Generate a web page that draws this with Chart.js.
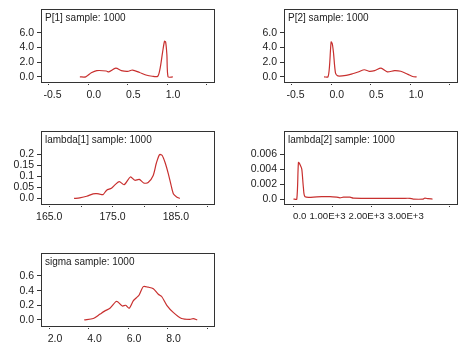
<!DOCTYPE html>
<html>
<head>
<meta charset="utf-8">
<script src="https://cdn.jsdelivr.net/npm/chart.js@4/dist/chart.umd.min.js"></script>
<style>
body { margin: 0; background: #fff; width: 474px; height: 348px; position: relative; overflow: hidden; }
canvas { position: absolute; }
</style>
</head>
<body>
<canvas id="c1"></canvas>
<canvas id="c2"></canvas>
<canvas id="c3"></canvas>
<canvas id="c4"></canvas>
<canvas id="c5"></canvas>
<script>
// P[1]
var p1X = [-0.104, -0.03, 0.04, 0.11, 0.23, 0.26, 0.35, 0.42, 0.5, 0.56, 0.65, 0.73, 0.81, 0.88, 0.91, 0.94, 0.965, 0.98, 0.995, 1.01, 1.07];
var p1Y = [0, 0, 0.55, 0.85, 0.8, 0.68, 1.18, 0.85, 0.75, 0.93, 0.6, 0.25, 0.08, 0.08, 1.2, 3.3, 4.85, 4.7, 3.0, 0, 0];
// P[2]
var p2X = [-0.09, -0.04, -0.02, 0.0, 0.015, 0.03, 0.055, 0.085, 0.19, 0.27, 0.35, 0.42, 0.48, 0.55, 0.63, 0.71, 0.8, 0.88, 0.97, 1.03, 1.08];
var p2Y = [0, 0, 1.5, 4.75, 4.5, 3.3, 0.55, 0.13, 0.2, 0.42, 0.7, 0.97, 0.76, 0.85, 1.18, 0.68, 0.85, 0.76, 0.34, 0.05, 0];
// lambda[1]
var l1X = [168.9, 169.8, 170.9, 171.9, 172.5, 173, 173.5, 174.05, 174.8, 175.4, 176.05, 176.8, 177.8, 178.5, 179.2, 179.9, 180.6, 181.4, 181.9, 182.4, 182.8, 183.3, 183.8, 184.2, 184.6, 185.1, 185.6];
var l1Y = [0, 0.003, 0.01, 0.021, 0.022, 0.019, 0.018, 0.0375, 0.046, 0.0625, 0.076, 0.062, 0.097, 0.082, 0.086, 0.07, 0.072, 0.104, 0.16, 0.198, 0.195, 0.16, 0.11, 0.0625, 0.02, 0.007, 0];
// lambda[2]
var l2X = [0, 85, 128, 170, 213, 255, 298, 600, 936, 1106, 1190, 1277, 1447, 1532, 2000, 2809, 2979, 3064, 3319, 3362, 3447, 3557];
var l2Y = [0, 0, 0.0049, 0.0046, 0.004, 0.0015, 0.0003, 0.0003, 0.00033, 0.00025, 0.00017, 0.00025, 0.00025, 0.00012, 0.0001, 0.0001, 0.0001, 0, 0, 0.00012, 0.00005, 0];
// sigma
var sgX = [3.77, 4.23, 4.57, 4.8, 5.07, 5.37, 5.46, 5.7, 5.87, 6.05, 6.25, 6.4, 6.55, 6.76, 7.01, 7.27, 7.52, 7.69, 7.95, 8.29, 8.7, 9.12, 9.29, 9.49];
var sgY = [0, 0.02, 0.08, 0.12, 0.16, 0.25, 0.248, 0.19, 0.2, 0.16, 0.26, 0.3, 0.34, 0.455, 0.447, 0.426, 0.35, 0.32, 0.2, 0.1, 0.02, 0.008, 0.017, 0];

var pXTicks = [-0.5, 0, 0.5, 1.0, 1.5];
var pXLabels = ["-0.5", "0.0", "0.5", "1.0", ""];
var pYTicks = [0, 2, 4, 6];
var pYLabels = ["0.0", "2.0", "4.0", "6.0"];
var l1XTicks = [165, 170, 175, 180, 185, 190];
var l1XLabels = ["165.0", "", "175.0", "", "185.0", ""];
var l1YTicks = [0, 0.05, 0.1, 0.15, 0.2];
var l1YLabels = ["0.0", "0.05", "0.1", "0.15", "0.2"];
var l2XTicks = [0, 1000, 2000, 3000, 4000];
var l2XLabels = ["0.0", "1.00E+3", "2.00E+3", "3.00E+3", ""];
var l2YTicks = [0, 0.002, 0.004, 0.006];
var l2YLabels = ["0.0", "0.002", "0.004", "0.006"];
var sgXTicks = [2, 4, 6, 8, 10];
var sgXLabels = ["2.0", "4.0", "6.0", "8.0", ""];
var sgYTicks = [0, 0.2, 0.4, 0.6];
var sgYLabels = ["0.0", "0.2", "0.4", "0.6"];

var BOX_W = 173, BOX_H = 79;
var Y_W = 40, X_H = 20, PAD_T = 3, PAD_R = 6;
var FONT = '"Liberation Sans", Arial, sans-serif';

// box + title inside plot area
var boxPlugin = {
    id: 'box',
    afterDraw: function (chart, args, opts) {
        var a = chart.chartArea, ctx = chart.ctx;
        ctx.save();
        ctx.strokeStyle = '#333';
        ctx.lineWidth = 1;
        ctx.strokeRect(Math.round(a.left) + 0.5, Math.round(a.top) + 0.5, Math.round(a.right - a.left), Math.round(a.bottom - a.top));
        ctx.fillStyle = '#222';
        ctx.font = '10px ' + FONT;
        ctx.textBaseline = 'middle';
        ctx.fillText(opts.text, a.left + 4, a.top + 9);
        ctx.restore();
    }
};

function makePanel(id, boxLeft, boxTop, title, xs, ys, xmin, xmax, xt, xl, ymin, ymax, yt, yl, xFontSize) {
    var cv = document.getElementById(id);
    cv.width = Y_W + BOX_W + PAD_R;
    cv.height = PAD_T + BOX_H + X_H;
    cv.style.left = (boxLeft - Y_W) + 'px';
    cv.style.top = (boxTop - PAD_T) + 'px';
    var pts = xs.map(function (x, i) { return { x: x, y: ys[i] }; });
    return new Chart(cv, {
        type: 'line',
        data: { datasets: [{ data: pts, borderColor: '#c8302f', borderWidth: 1.2, pointRadius: 0, tension: 0.25, fill: false }] },
        options: {
            responsive: false,
            animation: false,
            layout: { padding: { left: 0, top: PAD_T, right: PAD_R, bottom: 0 } },
            plugins: { legend: { display: false }, tooltip: { enabled: false }, box: { text: title } },
            scales: {
                x: {
                    type: 'linear', min: xmin, max: xmax,
                    afterBuildTicks: function (s) { s.ticks = xt.map(function (v) { return { value: v }; }); },
                    afterFit: function (s) { s.height = X_H; },
                    grid: { drawOnChartArea: false, tickLength: 3, color: '#333' },
                    border: { display: true, width: 4, color: 'rgba(0,0,0,0)' },
                    ticks: {
                        align: 'end', labelOffset: 13, padding: 4, color: '#222',
                        font: { family: FONT, size: xFontSize || 10.5 }, maxRotation: 0, autoSkip: false,
                        callback: function (v) { var i = xt.indexOf(v); return i < 0 ? '' : xl[i]; }
                    }
                },
                y: {
                    type: 'linear', min: ymin, max: ymax,
                    afterBuildTicks: function (s) { s.ticks = yt.map(function (v) { return { value: v }; }); },
                    afterFit: function (s) { s.width = Y_W; },
                    grid: { drawOnChartArea: false, tickLength: 4, color: '#333' },
                    border: { display: false },
                    ticks: {
                        padding: 3, color: '#222', font: { family: FONT, size: 10.5 }, autoSkip: false,
                        callback: function (v) { var i = yt.indexOf(v); return i < 0 ? '' : yl[i]; }
                    }
                }
            }
        },
        plugins: [boxPlugin]
    });
}

makePanel('c1', 41, 3, 'P[1] sample: 1000', p1X, p1Y, -0.595, 1.59, pXTicks, pXLabels, -0.7, 9.2, pYTicks, pYLabels);
makePanel('c2', 284, 3, 'P[2] sample: 1000', p2X, p2Y, -0.595, 1.59, pXTicks, pXLabels, -0.7, 9.2, pYTicks, pYLabels);
makePanel('c3', 41, 125, 'lambda[1] sample: 1000', l1X, l1Y, 163.68, 191.0, l1XTicks, l1XLabels, -0.025, 0.303, l1YTicks, l1YLabels);
makePanel('c4', 284, 125, 'lambda[2] sample: 1000', l2X, l2Y, -242, 4184, l2XTicks, l2XLabels, -0.00066, 0.00906, l2YTicks, l2YLabels, 9.6);
makePanel('c5', 41, 247, 'sigma sample: 1000', sgX, sgY, 1.58, 10.34, sgXTicks, sgXLabels, -0.083, 0.91, sgYTicks, sgYLabels);
</script>
</body>
</html>
